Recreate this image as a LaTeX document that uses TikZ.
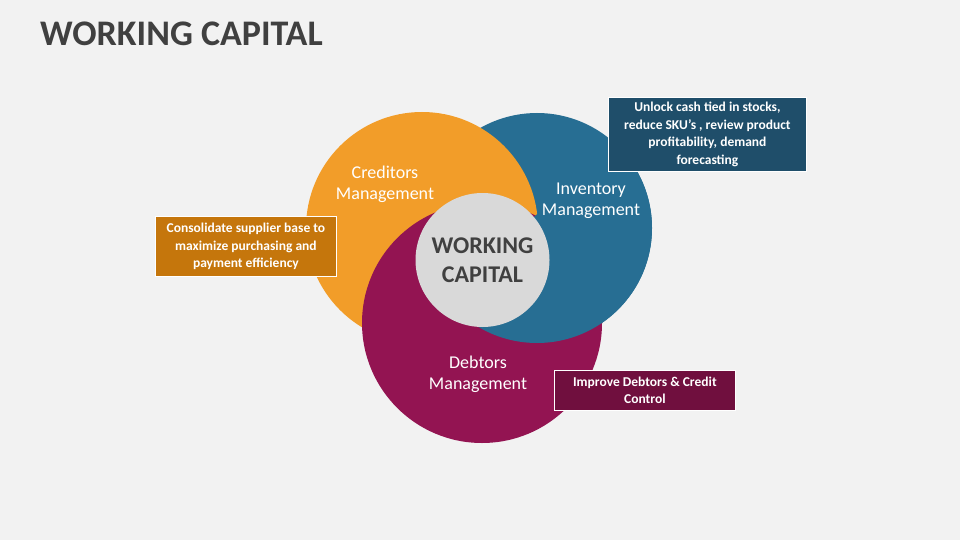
\documentclass[tikz,border=0pt]{standalone}
\usepackage{fontspec}
\setmainfont{Carlito}
\usepackage{tikz}
\definecolor{slideGray}{RGB}{242,242,242}
\definecolor{titleGray}{RGB}{64,64,64}
\definecolor{credOrange}{RGB}{242,157,41}
\definecolor{invBlue}{RGB}{39,110,147}
\definecolor{debPurple}{RGB}{147,20,82}
\definecolor{hubGray}{RGB}{217,217,217}
\definecolor{credBox}{RGB}{197,118,12}
\definecolor{invBox}{RGB}{31,78,106}
\definecolor{debBox}{RGB}{112,15,62}
\tikzset{
    blob label/.style={text=white, align=center, font=\fontsize{18}{21}\selectfont}, % 三个圆内的标题
    info box/.style={draw=white, line width=0.8pt, text=white, align=center, inner sep=0pt,
        font=\bfseries\fontsize{13.5}{17.5}\selectfont, anchor=north west} % 说明框
}

\begin{document}
\begin{tikzpicture}[x=1pt, y=-1pt]
    \def\R{400}
    \useasboundingbox (0,0) rectangle (960,540);
    \fill[slideGray] (0,0) rectangle (960,540);
    \node[anchor=base west, inner sep=0pt, text=titleGray, font=\bfseries\fontsize{36}{40}\selectfont] (title) at (40,46) {WORKING CAPITAL};

    \coordinate (hub) at (482.5,260);
    \coordinate (credC) at (422,228);
    \coordinate (invC) at (537,228);
    \coordinate (debC) at (482,323);

    % 底层: 蓝 < 橙 < 紫
    \fill[invBlue] (invC) circle[radius=115];
    \fill[credOrange] (credC) circle[radius=116];
    \fill[debPurple] (debC) circle[radius=120];
    % 右下扇形内蓝色压住紫色
    \begin{scope}
        \clip (hub) -- +(-240:\R) -- +(-293:\R) -- +(-347:\R) -- +(-400:\R) -- cycle;
        \fill[invBlue] (invC) circle[radius=115];
    \end{scope}

    \node[circle, fill=hubGray, minimum size=134, inner sep=0pt, align=center, text=titleGray,
        font=\bfseries\fontsize{24}{29}\selectfont] (wc) at (hub) {WORKING\\CAPITAL};

    \node[blob label] (cred) at (385,184) {Creditors\\Management};
    \node[blob label] (inv) at (591,201) {Inventory\\Management};
    \node[blob label] (deb) at (478,374) {Debtors\\Management};

    \node[info box, fill=invBox, minimum width=198, minimum height=74] (invnote) at (608,97)
        {Unlock cash tied in stocks,\\reduce SKU’s , review product\\profitability, demand\\forecasting};
    \node[info box, fill=credBox, minimum width=181, minimum height=60] (crednote) at (155,216)
        {Consolidate supplier base to\\maximize purchasing and\\payment efficiency};
    \node[info box, fill=debBox, minimum width=181, minimum height=40] (debnote) at (554,370)
        {Improve Debtors \& Credit\\Control};
\end{tikzpicture}
\end{document}
